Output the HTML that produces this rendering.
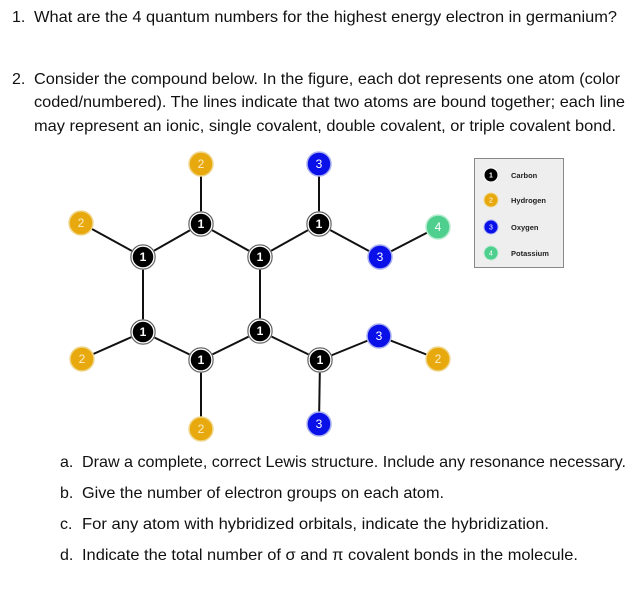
<!DOCTYPE html>
<html><head><meta charset="utf-8"><style>
html,body{margin:0;padding:0;background:#fff;}
svg{display:block;}
text{font-family:"Liberation Sans",sans-serif;}
</style></head><body>
<svg width="636" height="590" viewBox="0 0 636 590" xmlns="http://www.w3.org/2000/svg">
<g font-size="16" fill="#111">
<text x="12" y="22">1.</text>
<text x="34" y="22" textLength="583" lengthAdjust="spacingAndGlyphs">What are the 4 quantum numbers for the highest energy electron in germanium?</text>
<text x="12" y="84">2.</text>
<text x="34" y="84" textLength="586" lengthAdjust="spacingAndGlyphs">Consider the compound below. In the figure, each dot represents one atom (color</text>
<text x="34" y="107" textLength="591" lengthAdjust="spacingAndGlyphs">coded/numbered). The lines indicate that two atoms are bound together; each line</text>
<text x="34" y="131" textLength="582" lengthAdjust="spacingAndGlyphs">may represent an ionic, single covalent, double covalent, or triple covalent bond.</text>
<text x="60" y="467">a.</text>
<text x="82" y="467" textLength="544" lengthAdjust="spacingAndGlyphs">Draw a complete, correct Lewis structure. Include any resonance necessary.</text>
<text x="60" y="498">b.</text>
<text x="82" y="498" textLength="362" lengthAdjust="spacingAndGlyphs">Give the number of electron groups on each atom.</text>
<text x="60" y="529">c.</text>
<text x="82" y="529" textLength="467" lengthAdjust="spacingAndGlyphs">For any atom with hybridized orbitals, indicate the hybridization.</text>
<text x="60" y="560">d.</text>
<text x="82" y="560" textLength="496" lengthAdjust="spacingAndGlyphs">Indicate the total number of σ and π covalent bonds in the molecule.</text>
</g>
<g stroke="#111" stroke-width="2">
<line x1="201" y1="164" x2="201" y2="224"/>
<line x1="319" y1="164" x2="319" y2="224"/>
<line x1="81" y1="223" x2="143" y2="257"/>
<line x1="143" y1="257" x2="201" y2="224"/>
<line x1="201" y1="224" x2="260" y2="257"/>
<line x1="260" y1="257" x2="319" y2="224"/>
<line x1="319" y1="224" x2="380" y2="257"/>
<line x1="380" y1="257" x2="438" y2="227"/>
<line x1="143" y1="257" x2="143" y2="332"/>
<line x1="260" y1="257" x2="260" y2="331"/>
<line x1="82" y1="359" x2="143" y2="332"/>
<line x1="143" y1="332" x2="201" y2="360"/>
<line x1="201" y1="360" x2="260" y2="331"/>
<line x1="260" y1="331" x2="320" y2="360"/>
<line x1="320" y1="360" x2="379" y2="336"/>
<line x1="379" y1="336" x2="438" y2="359"/>
<line x1="201" y1="360" x2="201" y2="429"/>
<line x1="320" y1="360" x2="319" y2="424"/>
</g>
<g font-size="12" text-anchor="middle">
<!-- carbons -->
<g fill="#000" stroke="#888" stroke-width="0.8">
<circle cx="201" cy="224" r="12.5"/><circle cx="319" cy="224" r="12.5"/>
<circle cx="143" cy="257" r="12.5"/><circle cx="260" cy="257" r="12.5"/>
<circle cx="143" cy="332" r="12.5"/><circle cx="260" cy="331" r="12.5"/>
<circle cx="201" cy="360" r="12.5"/><circle cx="320" cy="360" r="12.5"/>
</g>
<g fill="none" stroke="#fff" stroke-width="1.5">
<circle cx="201" cy="224" r="11"/><circle cx="319" cy="224" r="11"/>
<circle cx="143" cy="257" r="11"/><circle cx="260" cy="257" r="11"/>
<circle cx="143" cy="332" r="11"/><circle cx="260" cy="331" r="11"/>
<circle cx="201" cy="360" r="11"/><circle cx="320" cy="360" r="11"/>
</g>
<g fill="#fff" font-weight="bold">
<text x="201" y="228">1</text><text x="319" y="228">1</text>
<text x="143" y="261">1</text><text x="260" y="261">1</text>
<text x="143" y="336">1</text><text x="260" y="335">1</text>
<text x="201" y="364">1</text><text x="320" y="364">1</text>
</g>
<!-- hydrogens -->
<g fill="#e8a90e" stroke="#f0d890" stroke-width="1.5">
<circle cx="201" cy="164" r="12"/><circle cx="81" cy="223" r="12"/>
<circle cx="82" cy="359" r="12"/><circle cx="438" cy="359" r="12"/>
<circle cx="201" cy="429" r="12"/>
</g>
<g fill="#fbeec8">
<text x="201" y="168">2</text><text x="81" y="227">2</text>
<text x="82" y="363">2</text><text x="438" y="363">2</text>
<text x="201" y="433">2</text>
</g>
<!-- oxygens -->
<g fill="#0a10e8" stroke="#aab0f0" stroke-width="1.5">
<circle cx="319" cy="164" r="12"/><circle cx="380" cy="257" r="12"/>
<circle cx="379" cy="336" r="12"/><circle cx="319" cy="424" r="12"/>
</g>
<g fill="#fff">
<text x="319" y="168">3</text><text x="380" y="261">3</text>
<text x="379" y="340">3</text><text x="319" y="428">3</text>
</g>
<!-- potassium -->
<circle cx="438" cy="227" r="12" fill="#4ecf8e" stroke="#b8ecd0" stroke-width="1.5"/>
<text x="438" y="231" fill="#fff">4</text>
</g>
<!-- legend -->
<rect x="474.5" y="158.5" width="89" height="109" fill="#eeeeee" stroke="#888" stroke-width="1"/>
<g font-size="7" text-anchor="middle">
<circle cx="491" cy="175" r="7" fill="#000" stroke="#fff" stroke-width="1"/><text x="491" y="177.5" fill="#fff" font-weight="bold">1</text>
<circle cx="491" cy="200" r="7" fill="#e8a90e" stroke="#f0d890" stroke-width="1"/><text x="491" y="202.5" fill="#fff">2</text>
<circle cx="491" cy="227" r="7" fill="#0a10e8" stroke="#aab0f0" stroke-width="1"/><text x="491" y="229.5" fill="#fff">3</text>
<circle cx="491" cy="253" r="7" fill="#4ecf8e" stroke="#b8ecd0" stroke-width="1"/><text x="491" y="255.5" fill="#fff">4</text>
</g>
<g font-size="7.5" font-weight="bold" fill="#222">
<text x="511" y="178">Carbon</text>
<text x="511" y="203">Hydrogen</text>
<text x="511" y="230">Oxygen</text>
<text x="511" y="256">Potassium</text>
</g>
</svg>
</body></html>
